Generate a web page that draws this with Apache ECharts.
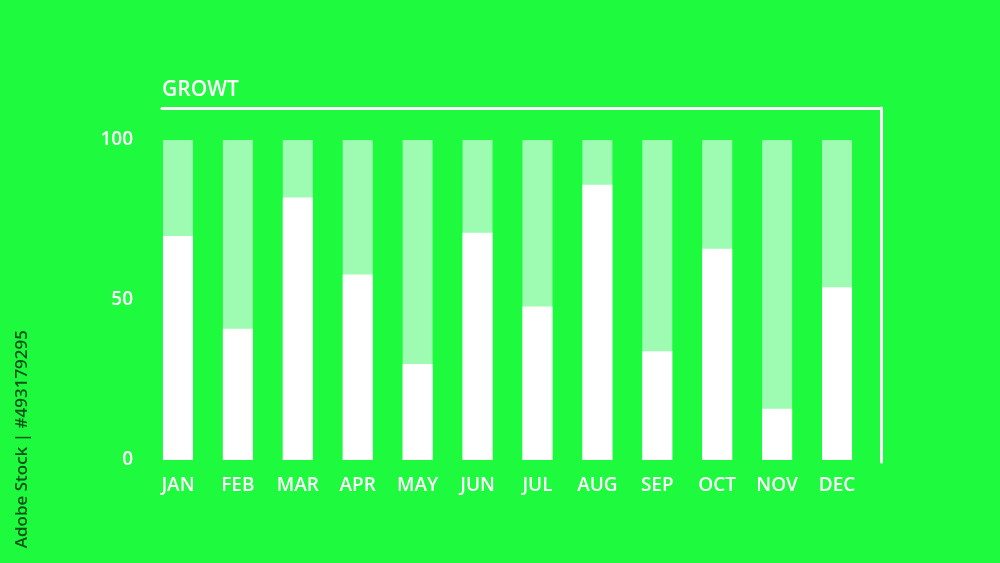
<!DOCTYPE html>
<html>
<head>
<meta charset="utf-8">
<script src="https://cdn.jsdelivr.net/npm/echarts@6/dist/echarts.min.js"></script>
<style>
html,body{margin:0;padding:0;background:#1EFA3E;}
#c{width:1000px;height:563px;}
</style>
</head>
<body>
<div id="c"></div>
<script>
const titleText = "GROWT";
const months = ["JAN","FEB","MAR","APR","MAY","JUN","JUL","AUG","SEP","OCT","NOV","DEC"];
const growth = [70, 41, 82, 58, 30, 71, 48, 86, 34, 66, 16, 54];
const yTicks = [0, 50, 100];
const sideText = "Adobe Stock | #493179295";

const chart = echarts.init(document.getElementById('c'));
chart.setOption({
  backgroundColor: '#1EFA3E',
  animation: false,
  title: {
    text: titleText, left: 157, top: 75,
    textStyle: { color: '#ffffff', fontFamily: 'Open Sans', fontSize: 21, fontWeight: 600 }
  },
  graphic: [{
    type: 'text', left: 14, top: 330, rotation: Math.PI / 2,
    style: { text: sideText, fill: '#0B5318', font: '600 17px "Open Sans"' }
  }],
  grid: [
    { left: 148, right: 133, top: 140, bottom: 103 },
    { left: 162, right: 119, top: 108, bottom: 101 }
  ],
  xAxis: [
    {
      type: 'category', data: months, gridIndex: 0,
      axisLine: { show: false }, axisTick: { show: false },
      axisLabel: { color: '#ffffff', fontFamily: 'Open Sans', fontSize: 19, fontWeight: 600, margin: 16 }
    },
    {
      type: 'value', gridIndex: 1, position: 'top', min: 0, max: 1,
      axisLine: { show: true, onZero: false, lineStyle: { color: '#ffffff', width: 3 } },
      axisTick: { show: false }, axisLabel: { show: false }, splitLine: { show: false }
    }
  ],
  yAxis: [
    {
      type: 'value', gridIndex: 0, min: 0, max: 100, interval: 50,
      axisLine: { show: false }, axisTick: { show: false }, splitLine: { show: false },
      axisLabel: { color: '#ffffff', fontFamily: 'Open Sans', fontSize: 19, fontWeight: 600, margin: 15,
        formatter: v => yTicks.includes(v) ? String(v) : '' }
    },
    {
      type: 'value', gridIndex: 1, position: 'right', min: 0, max: 1,
      axisLine: { show: true, onZero: false, lineStyle: { color: '#ffffff', width: 3 } },
      axisTick: { show: false }, axisLabel: { show: false }, splitLine: { show: false }
    }
  ],
  series: [{
    type: 'bar', data: growth, xAxisIndex: 0, yAxisIndex: 0,
    barWidth: 30,
    itemStyle: { color: '#ffffff' },
    showBackground: true,
    backgroundStyle: { color: '#9DFCB2' }
  }]
});
</script>
</body>
</html>
